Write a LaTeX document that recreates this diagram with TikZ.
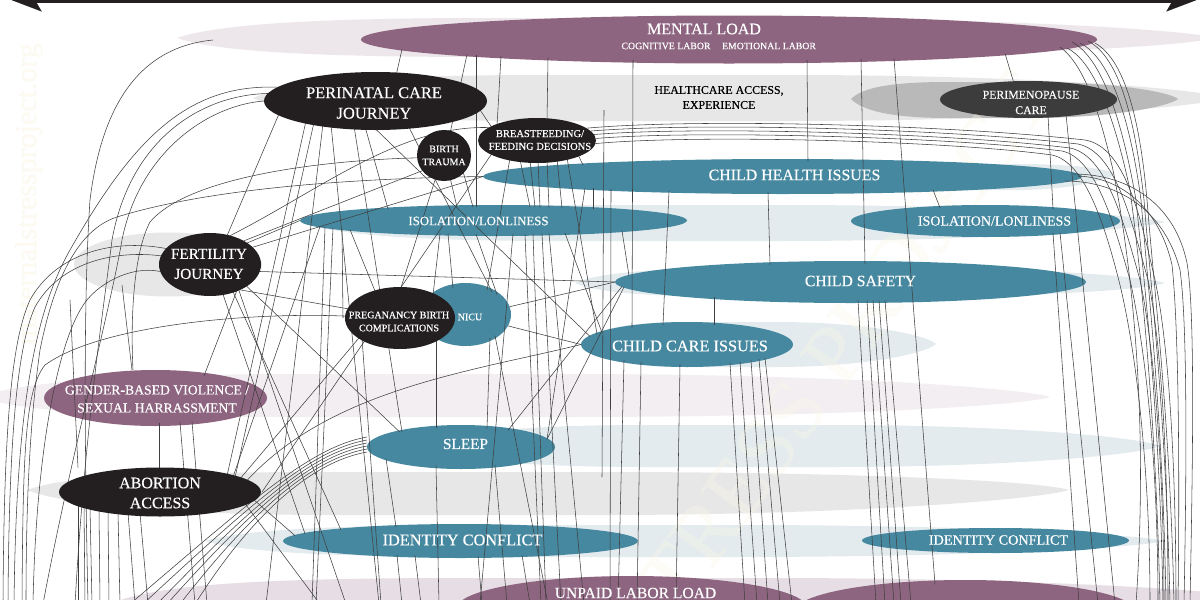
\documentclass[tikz,border=0pt]{standalone}
\usepackage{fontspec}
\setmainfont{Liberation Serif}[FakeBold=0.35]
\usetikzlibrary{shapes.geometric,calc,arrows.meta}
\pgfdeclarelayer{top}
\pgfsetlayers{main,top}
\definecolor{plum}{HTML}{8E6580}
\definecolor{teal}{HTML}{46889F}
\definecolor{ink}{HTML}{231F20}
\definecolor{slate}{HTML}{3C3C3C}
\definecolor{haloplum}{HTML}{EDE6EA}
\definecolor{paleplum}{HTML}{F2EEF2}
\definecolor{deepplum}{HTML}{E6DEE4}
\definecolor{paleblue}{HTML}{E3EBEE}
\definecolor{palegray}{HTML}{E7E7E7}
\definecolor{midgray}{HTML}{B9B9B9}
\definecolor{wmark}{HTML}{FBF7E8}
\definecolor{linkc}{HTML}{404040}
\tikzset{
  oval/.style={ellipse,draw=none,inner sep=0pt,outer sep=0pt},
  link/.style={draw=linkc,line width=.55pt},
  lab/.style={text=white,inner sep=0pt,align=center},
}
\newcommand\blob[6]{%
  \expandafter\gdef\csname cx#1\endcsname{#2}%
  \expandafter\gdef\csname w#1\endcsname{#4}%
  \expandafter\gdef\csname h#1\endcsname{#5}%
  \node[oval,fill=#6,minimum width=#4pt,minimum height=#5pt] (#1) at (#2,#3) {};}
\newcommand\edgeoff[2]{.88*(\csname h#1\endcsname/2)*sqrt(max(0,1-((#2-\csname cx#1\endcsname)/(\csname w#1\endcsname/2))*((#2-\csname cx#1\endcsname)/(\csname w#1\endcsname/2))))}
\newcommand\lk[4]{\draw[link] ($(#2,0 |- #1.center)+(0,{\edgeoff{#1}{#2}})$) -- ($(#4,0 |- #3.center)+(0,{-\edgeoff{#3}{#4}})$);}
\newcommand\lf[3]{\draw[link] ($(#2,0 |- #1.center)+(0,{\edgeoff{#1}{#2}})$) -- (#3,0 |- floor);}
% lens-shaped band: x0, x1, ytop, ybottom, ymiddle, colour
\newcommand\band[6]{\fill[#6] (#1,#5)
 .. controls ({#1+.035*(#2-#1)},{#5-.32*(#4-#3)}) and ({#1+.12*(#2-#1)},#3) .. ({#1+.3*(#2-#1)},#3)
 -- ({#1+.55*(#2-#1)},#3)
 .. controls ({#1+.8*(#2-#1)},#3) and ({#1+.975*(#2-#1)},{#5-.2*(#4-#3)}) .. (#2,#5)
 .. controls ({#1+.975*(#2-#1)},{#5+.2*(#4-#3)}) and ({#1+.8*(#2-#1)},#4) .. ({#1+.55*(#2-#1)},#4)
 -- ({#1+.3*(#2-#1)},#4)
 .. controls ({#1+.12*(#2-#1)},#4) and ({#1+.035*(#2-#1)},{#5+.32*(#4-#3)}) .. cycle;}
\begin{document}
\begin{tikzpicture}[x=1pt,y=-1pt]
\useasboundingbox (0,0) rectangle (1200,600);
\clip (0,0) rectangle (1200,600);
\fill[white] (0,0) rectangle (1200,600);
\coordinate (floor) at (0,604);
% background bands
\band{177}{1215}{18}{57}{38}{haloplum}
\band{253}{1225}{75}{121}{98}{palegray}
\band{851}{1178}{82}{118}{99}{midgray}
\band{900}{1115}{164}{190}{174}{paleblue}
\band{300}{1165}{205}{241}{222}{paleblue}
\band{575}{1165}{268}{297}{283}{paleblue}
\fill[palegray] (168,264.5) ellipse [x radius=94pt,y radius=32pt];
\band{581}{936}{322}{367}{344}{paleblue}
\band{-20}{1050}{374}{417}{397}{paleplum}
\band{430}{1160}{425}{467}{446}{paleblue}
\band{27}{1069}{472}{515}{490}{palegray}
\band{205}{1165}{525}{557}{541}{paleblue}
\band{108}{1300}{578}{640}{605}{deepplum}
% faint marks
\node[rotate=54,anchor=base west,text=wmark,inner sep=0pt,font=\fontsize{85}{85}\selectfont,opacity=.35] (wmarkbig) at (368,1043) {MATERNAL STRESS PROJECT};
\node[rotate=90,anchor=base east,text=wmark,inner sep=0pt,font=\fontsize{30}{30}\selectfont,opacity=.6] (wmarkurl) at (36,43) {maternalstressproject.org};
% top arrow
\coordinate (arrL) at (11,0);
\coordinate (arrR) at (1197,0);
\draw[ink,line width=6pt,{Stealth[length=30pt,width=22pt,inset=6pt]}-{Stealth[length=30pt,width=22pt,inset=6pt]}] (arrL) -- (arrR);
% coloured ovals
\blob{mental}{729}{39.5}{736}{48}{plum}
\blob{chealth}{782.5}{176.5}{599}{35}{teal}
\blob{isoL}{493.5}{220.5}{387}{31}{teal}
\blob{isoR}{985.5}{221}{269}{32}{teal}
\blob{safety}{850.5}{282}{471}{42}{teal}
\blob{nicu}{465.5}{314.5}{91}{63}{teal}
\blob{care}{687}{344.5}{212}{45}{teal}
\blob{gender}{155.5}{398}{223}{56}{plum}
\blob{sleep}{461}{447}{188}{44}{teal}
\blob{idenL}{460.5}{541}{355}{34}{teal}
\blob{idenR}{995.5}{540.5}{267}{25}{teal}
\blob{unpaid}{632}{608}{350}{64}{plum}
\blob{paidtwo}{965}{612}{342}{64}{plum}
% dark ovals and all labels sit above the lines
\begin{pgfonlayer}{top}
\blob{perinatal}{375.5}{101}{223}{58}{ink}
\blob{birth}{444}{155.5}{54}{51}{ink}
\blob{breast}{537}{140.5}{118}{45}{ink}
\blob{perim}{1028.5}{99.5}{177}{37}{slate}
\blob{fert}{210}{264.5}{102}{63}{ink}
\blob{preg}{400}{318}{110}{62}{ink}
\blob{abort}{160}{492}{202}{49}{ink}
\node[lab,font=\fontsize{16}{18}\selectfont] (tmental) at (704,29) {MENTAL LOAD};
\node[lab,font=\fontsize{9.8}{11}\selectfont] (tcog) at (666,46) {COGNITIVE LABOR};
\node[lab,font=\fontsize{9.8}{11}\selectfont] (temo) at (769,46) {EMOTIONAL LABOR};
\node[lab,text=black,font=\fontsize{11.9}{15}\selectfont] (tcare) at (719,97.5) {HEALTHCARE ACCESS,\\EXPERIENCE};
\node[lab,font=\fontsize{11.8}{15.5}\selectfont] (tperim) at (1031,102.5) {PERIMENOPAUSE\\CARE};
\node[lab,font=\fontsize{16.4}{20.5}\selectfont] (tperi) at (374,103) {PERINATAL CARE\\JOURNEY};
\node[lab,font=\fontsize{10}{13}\selectfont] (tbirth) at (444,155.5) {BIRTH\\TRAUMA};
\node[lab,font=\fontsize{10.5}{12.8}\selectfont] (tbreast) at (540,140) {BREASTFEEDING/\\FEEDING DECISIONS};
\node[lab,font=\fontsize{15.9}{18}\selectfont] (tchild) at (794.5,175) {CHILD HEALTH ISSUES};
\node[lab,font=\fontsize{12.8}{15}\selectfont] (tisoL) at (478.5,221) {ISOLATION/LONLINESS};
\node[lab,font=\fontsize{14}{16}\selectfont] (tisoR) at (994.5,221) {ISOLATION/LONLINESS};
\node[lab,font=\fontsize{15.7}{18}\selectfont] (tsafe) at (860.5,281) {CHILD SAFETY};
\node[lab,font=\fontsize{15.2}{20}\selectfont] (tfert) at (209,264) {FERTILITY\\JOURNEY};
\node[lab,font=\fontsize{10}{13}\selectfont] (tpreg) at (399,321.5) {PREGANANCY BIRTH\\COMPLICATIONS};
\node[lab,font=\fontsize{10}{12}\selectfont] (tnicu) at (470,317) {NICU};
\node[lab,font=\fontsize{16.3}{18}\selectfont] (tccare) at (690,346) {CHILD CARE ISSUES};
\node[lab,font=\fontsize{13.7}{18}\selectfont] (tgender) at (157,399) {GENDER-BASED VIOLENCE /\\SEXUAL HARRASSMENT};
\node[lab,font=\fontsize{15.3}{18}\selectfont] (tsleep) at (465.5,444) {SLEEP};
\node[lab,font=\fontsize{16}{20}\selectfont] (tabort) at (160,493) {ABORTION\\ACCESS};
\node[lab,font=\fontsize{16.3}{18}\selectfont] (tidenL) at (462.5,540) {IDENTITY CONFLICT};
\node[lab,font=\fontsize{14.2}{16}\selectfont] (tidenR) at (998.5,540) {IDENTITY CONFLICT};
\node[lab,font=\fontsize{15.6}{18}\selectfont] (tunpaid) at (635.5,593) {UNPAID LABOR LOAD};
\end{pgfonlayer}
% straight links: mental load
\lk{mental}{402}{perinatal}{396}
\lk{mental}{467}{birth}{450}
\lk{mental}{476}{isoL}{476}
\lk{mental}{501}{breast}{497}
\lk{mental}{548}{breast}{547}
\lk{mental}{633}{care}{632}
\lk{mental}{807}{chealth}{808}
\lk{mental}{861}{safety}{865}
\lk{mental}{894}{paidtwo}{935}
\lk{mental}{1005}{perim}{1014}
% perinatal
\lk{perinatal}{279}{fert}{226}
\lk{perinatal}{306}{abort}{227}
\lk{perinatal}{314}{abort}{235}
\lf{perinatal}{323}{266}
\lf{perinatal}{331}{379}
\lk{perinatal}{354}{sleep}{402}
\lk{perinatal}{365}{isoL}{388}
\lk{perinatal}{373}{care}{590}
\lk{perinatal}{408}{nicu}{492}
\lk{perinatal}{480}{breast}{492}
% birth, breastfeeding
\lk{birth}{436}{preg}{400}
\lk{birth}{450}{isoL}{457}
\lk{birth}{463}{isoL}{473}
\lk{breast}{492}{abort}{262}
\lk{breast}{510}{nicu}{487}
\lk{breast}{520}{isoL}{530}
\lk{breast}{530}{isoL}{535}
\lk{breast}{538}{isoL}{540}
\lk{breast}{547}{isoL}{549}
\lk{breast}{557}{isoL}{562}
\lk{breast}{567}{care}{597}
\lk{breast}{578}{chealth}{583}
% child health
\lk{chealth}{585}{sleep}{547}
\lk{chealth}{593}{isoL}{593}
\lf{chealth}{611}{610}
\lk{chealth}{669}{care}{663}
\lk{chealth}{768}{safety}{770}
\lk{chealth}{933}{isoR}{940}
% isolation
\lk{isoL}{320}{abort}{233}
\lf{isoL}{325}{312}
\lf{isoL}{333}{316}
\lk{isoL}{342}{preg}{343}
\lk{isoL}{350}{preg}{376}
\lk{isoL}{440}{nicu}{433}
\lk{isoL}{448}{nicu}{453}
\lk{isoL}{476}{nicu}{497}
\lf{isoL}{513}{480}
\lf{isoL}{525}{541}
\lf{isoL}{533}{546}
\lf{isoL}{542}{561}
\lf{isoL}{549}{584}
\lk{isoL}{565}{care}{602}
\lk{isoL}{622}{safety}{629}
\lf{isoR}{1053}{1079}
\lf{isoR}{1060}{1098}
% perimenopause
\lk{perim}{1048}{isoR}{1053}
\lf{perim}{1066}{1115}
% safety, care
\lk{safety}{714}{care}{714}
\lk{safety}{622}{sleep}{508}
\lk{safety}{624}{sleep}{547}
\lf{safety}{858}{876}
\lf{safety}{867}{885}
\lf{safety}{873}{894}
\lf{safety}{879}{901}
\lf{safety}{885}{911}
\lf{care}{624}{618}
\lf{care}{641}{637}
\lf{care}{680}{676}
\lf{care}{730}{745}
\lf{care}{740}{757}
\lf{care}{751}{768}
\lf{care}{759}{780}
\lf{care}{765}{792}
% nicu, sleep, identity
\lk{nicu}{436}{sleep}{436}
\lk{nicu}{490}{sleep}{487}
\lf{nicu}{495}{548}
\draw[link] (nicu.10) -- (safety.west);
\draw[link] (nicu.-15) -- (care.west);
\lk{sleep}{386}{idenL}{396}
\lf{sleep}{436}{439}
\lf{sleep}{495}{507}
\lf{idenL}{397}{402}
\lf{idenL}{415}{421}
\lf{idenL}{478}{482}
\lf{idenL}{522}{530}
% preg
\lk{preg}{360}{abort}{240}
\lf{preg}{362}{381}
% fertility
\lk{fert}{222}{idenL}{305}
\lk{fert}{232}{idenL}{341}
\lf{fert}{238}{346}
\lk{fert}{245}{sleep}{400}
\lk{fert}{238}{gender}{204}
\draw[link] (fert.35) -- (birth.215);
\draw[link] (fert.30) -- (isoL.west);
\draw[link] (fert.22) -- (chealth.west);
\draw[link] (fert.-8) -- (safety.west);
\draw[link] (fert.-40) -- (preg.170);
% gender, abortion
\lk{gender}{159}{abort}{159}
\lf{gender}{180}{195}
\lf{gender}{192}{207}
\lf{abort}{78}{78}
\lf{abort}{84}{85}
\lf{abort}{90}{92}
\lf{abort}{99}{100}
\lf{abort}{108}{109}
\lf{abort}{118}{120}
\lf{abort}{128}{135}
\lf{abort}{140}{148}
\lf{abort}{245}{320}
\lk{abort}{254}{idenL}{295}
% a few that run on without reaching an oval
\coordinate (stubA) at (604,110);
\coordinate (stubB) at (602,477);
\draw[link] (stubA) -- (stubB);
\coordinate (stubC) at (122,285);
\draw[link] (stubC) -- (132,0 |- gender.north);
\coordinate (stubD) at (70,300);
\draw[link] (stubD) -- (78,0 |- abort.north);
% curves, left side
\coordinate (haloL) at (213,40);
\draw[link] (haloL) .. controls (130,48) and (100,120) .. (90,200) .. controls (84,290) and (84,420) .. (88,0 |- floor);
\draw[link] (perinatal.172) .. controls (190,84) and (135,135) .. (70,250) .. controls (30,320) and (16,430) .. (14,0 |- floor);
\draw[link] (perinatal.176) .. controls (200,95) and (130,140) .. (112,240) .. controls (102,320) and (85,430) .. (75,0 |- floor);
\draw[link] (perinatal.180) .. controls (210,105) and (140,150) .. (122,240) .. controls (110,310) and (70,460) .. (43,0 |- floor);
\draw[link] (birth.185) .. controls (330,160) and (190,175) .. (150,222) .. controls (135,250) and (130,310) .. (133,0 |- gender.north);
\draw[link] (chealth.west) .. controls (380,178) and (220,185) .. (117,217) .. controls (70,232) and (50,300) .. (40,350) .. controls (30,420) and (26,500) .. (26,0 |- floor);
\draw[link] (fert.160) .. controls (110,238) and (55,255) .. (30,300) .. controls (12,340) and (4,420) .. (3,0 |- floor);
\draw[link] (fert.170) .. controls (115,250) and (60,262) .. (35,307) .. controls (18,345) and (9,430) .. (8,0 |- floor);
\draw[link] (fert.188) .. controls (130,265) and (95,285) .. (82,307) .. controls (58,345) and (36,450) .. (33,0 |- floor);
\draw[link] (preg.178) .. controls (250,312) and (100,325) .. (45,365) .. controls (25,390) and (23,450) .. (22,0 |- floor);
\draw[link] (fert.55) .. controls (320,190) and (400,125) .. (breast.165);
\draw[link] (care.west) .. controls (470,372) and (320,390) .. (237,0 |- abort.center);
% sleep bundle
\foreach \dy/\fx in {-10/130,-7/143,-4/157,-1/167,2/180,5/195}{
  \draw[link] ($(sleep.west)+(0,\dy)$) .. controls ($(sleep.west)+(-57,{\dy+10})$) and ($(sleep.west)+(-117,{\dy+65})$) .. (\fx,0 |- floor);
}
% curves, right side
\coordinate (mA) at (1095,43);
\coordinate (mB) at (1088,41);
\coordinate (mC) at (1080,43);
\coordinate (mD) at (1072,42);
\coordinate (mE) at (1067,48);
\coordinate (mF) at (1060,47);
\draw[link] (mA) .. controls (1125,60) and (1140,120) .. (1147,200) .. controls (1155,300) and (1170,420) .. (1174,0 |- floor);
\draw[link] (mB) .. controls (1120,58) and (1135,120) .. (1144,200) .. controls (1152,300) and (1166,420) .. (1170,0 |- floor);
\draw[link] (mC) .. controls (1110,58) and (1130,118) .. (1141,200) .. controls (1149,300) and (1163,420) .. (1166,0 |- floor);
\draw[link] (mD) .. controls (1102,58) and (1122,120) .. (1136,200) .. controls (1146,300) and (1160,420) .. (1163,0 |- floor);
\draw[link] (mE) .. controls (1095,62) and (1115,120) .. (1130,190) .. controls (1142,280) and (1156,420) .. (1160,0 |- floor);
\draw[link] (mF) .. controls (1085,65) and (1100,115) .. (1113,170) .. controls (1128,245) and (1150,400) .. (1136,0 |- floor);
\draw[link] (breast.14) .. controls (700,118) and (950,125) .. (1085,140) .. controls (1125,147) and (1140,215) .. (1155,280) .. controls (1170,350) and (1176,480) .. (1176,0 |- floor);
\draw[link] (breast.10) .. controls (700,122) and (950,129) .. (1078,144) .. controls (1115,152) and (1130,215) .. (1148,280) .. controls (1163,350) and (1168,480) .. (1168,0 |- floor);
\draw[link] (breast.6) .. controls (700,126) and (950,133) .. (1070,148) .. controls (1105,155) and (1122,215) .. (1140,280) .. controls (1155,350) and (1164,480) .. (1164,0 |- floor);
\draw[link] (breast.2) .. controls (700,130) and (950,137) .. (1062,151) .. controls (1095,158) and (1113,220) .. (1130,280) .. controls (1148,360) and (1158,480) .. (1158,0 |- floor);
\draw[link] (breast.-3) .. controls (700,134) and (950,141) .. (1052,155) .. controls (1085,162) and (1105,225) .. (1120,285) .. controls (1138,360) and (1150,480) .. (1150,0 |- floor);
\coordinate (hA) at (1073,174);
\coordinate (hB) at (1065,181);
\coordinate (hC) at (1078,176);
\draw[link] (hA) .. controls (1130,174) and (1175,205) .. (1187,263) .. controls (1195,310) and (1193,450) .. (1190,0 |- floor);
\draw[link] (hB) .. controls (1120,181) and (1165,212) .. (1180,270) .. controls (1187,320) and (1187,450) .. (1184,0 |- floor);
\draw[link] (hC) .. controls (1125,178) and (1160,212) .. (1172,265) .. controls (1178,320) and (1180,450) .. (1178,0 |- floor);
\end{tikzpicture}
\end{document}
